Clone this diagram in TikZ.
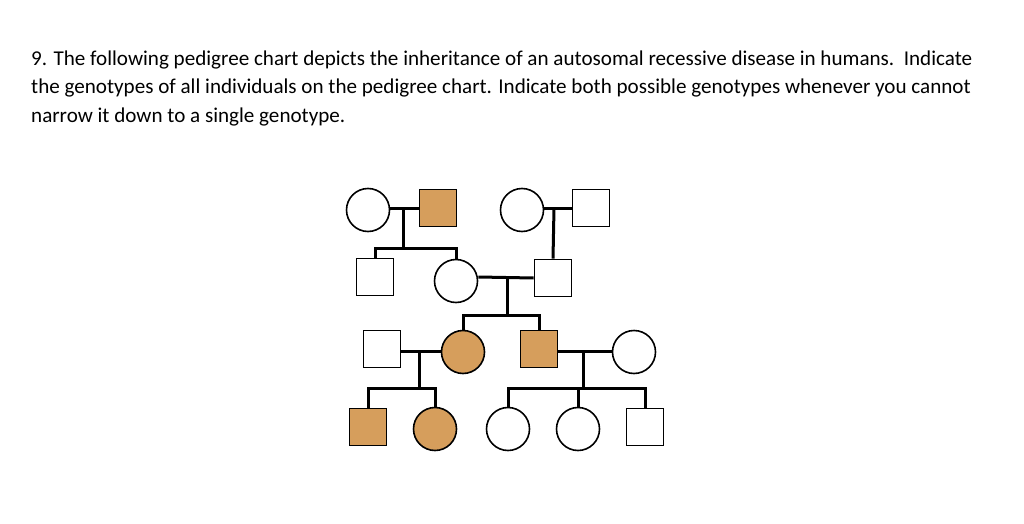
\documentclass[tikz,border=0pt]{standalone}
\usepackage{fontspec}
\setmainfont{Carlito}
\begin{document}
\begin{tikzpicture}[x=1pt,y=-1pt,
  ind/.style={draw=black,line width=1.6pt,inner sep=0pt,minimum size=37pt},
  sq/.style={ind,rectangle},
  ci/.style={ind,circle,minimum size=43pt},
  aff/.style={fill=affc},
  ln/.style={line width=3pt},
  txt/.style={anchor=base west,inner sep=0pt,font=\fontsize{21.1pt}{24pt}\selectfont}]
\definecolor{affc}{HTML}{D69E5C}
\useasboundingbox (0,0) rectangle (1024,524);
\node[txt] (t1) at (31,66) {9. The following pedigree chart depicts the inheritance of an autosomal recessive disease in humans.\ \ Indicate};
\node[txt] (t2) at (31,94) {the genotypes of all individuals on the pedigree chart. Indicate both possible genotypes whenever you cannot};
\node[txt] (t3) at (31,122) {narrow it down to a single genotype.};
% row 1
\node[ci] (A) at (368,210) {};
\node[sq,aff] (B) at (438,208) {};
\node[ci] (C) at (522,210) {};
\node[sq] (D) at (591,208) {};
% row 2
\node[sq] (E) at (375,277) {};
\node[ci] (F) at (456,281) {};
\node[sq] (G) at (553,278) {};
% row 3
\node[sq] (H) at (382,349) {};
\node[ci,aff] (I) at (463,352) {};
\node[sq,aff] (J) at (539,349) {};
\node[ci] (K) at (634,352) {};
% row 4
\node[sq,aff] (L) at (368,427) {};
\node[ci,aff] (M) at (435,429) {};
\node[ci] (N) at (508,429) {};
\node[ci] (O) at (578,429) {};
\node[sq] (P) at (645,427) {};
% connectors
\draw[ln] (A.east|-0,208) -- (B.west);
\draw[ln] (C.east|-0,208) -- (D.west);
\coordinate (m1) at (403,208);
\coordinate (s1) at (403,248);
\draw[ln] (m1) -- (s1);
\draw[ln] (E.north) -- (375,248) -- (456,248) -- (F.north);
\draw[ln] (554,208) -- (G.north);
\draw[ln] (F.east|-0,277) -- (G.west);
\coordinate (m2) at (507,277);
\draw[ln] (m2) -- (507,315);
\draw[ln] (I.north) -- (463,315) -- (539,315) -- (J.north);
\draw[ln] (H.east|-0,351) -- (I.west|-0,351);
\draw[ln] (J.east|-0,351) -- (K.west|-0,351);
\draw[ln] (419,351) -- (419,388);
\draw[ln] (L.north) -- (368,388) -- (435,388) -- (M.north);
\draw[ln] (583,351) -- (583,388);
\draw[ln] (N.north) -- (508,388) -- (645,388) -- (P.north);
\draw[ln] (578,388) -- (O.north);
\end{tikzpicture}
\end{document}
